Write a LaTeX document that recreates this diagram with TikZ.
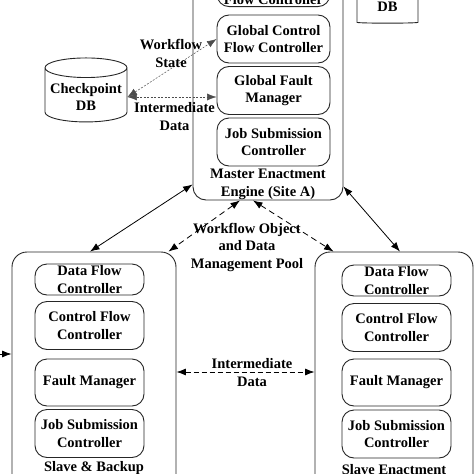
\documentclass[tikz,border=0pt]{standalone}
\usepackage{fontspec}
\setmainfont{Liberation Serif}
\usetikzlibrary{shapes.geometric,arrows.meta}

\begin{document}
\begin{tikzpicture}[x=1pt, y=-1pt,
    font=\fontsize{14.5}{17.5}\selectfont\bfseries,
    >={Latex[length=9.5pt,width=7pt]},
    engine/.style={draw=black!85, line width=0.9pt, rounded corners=13pt},
    unit/.style={draw=black!85, line width=0.9pt, rounded corners=12pt, align=center,
        minimum width=109pt, minimum height=48pt, inner sep=1pt},
    db/.style={draw=black!85, line width=0.9pt, cylinder, shape border rotate=90,
        aspect=0.25, align=center},
    link/.style={<->, line width=0.8pt},
    pool/.style={<->, line width=0.8pt, dash pattern=on 6pt off 4pt},
    store/.style={<->, line width=0.5pt, black!70, dash pattern=on 2pt off 1.5pt},
    tag/.style={align=center, inner sep=1pt}]
    % Visible area (the figure is cut on every side)
    \useasboundingbox (0,0) rectangle (474,474);
    \clip (0,0) rectangle (474,474);

    % Master engine (site A) and its units
    \node[engine, minimum width=150pt, minimum height=260pt,
        label={[tag, anchor=center, yshift=16pt]south:Master Enactment\\Engine (Site A)}] (master) at (268,70) {};
    \node[unit, minimum width=113pt, anchor=south,
        label={[tag, anchor=center, yshift=7pt]south:Flow Controller}] (gdf) at (273.5,7) {};
    \node[unit, minimum width=113pt] (gcf) at (273.5,39) {Global Control\\Flow Controller};
    \node[unit, minimum width=113pt] (gfm) at (273.5,90.5) {Global Fault\\Manager};
    \node[unit, minimum width=113pt] (mjs) at (273.5,142) {Job Submission\\Controller};

    % Databases
    \node[db, minimum width=82pt, minimum height=64pt] (chk) at (86,97) {Checkpoint\\DB};
    \node[db, minimum width=61pt, minimum height=70pt,
        label={[tag, anchor=center, yshift=17pt]south:DB}] (topdb) at (387.5,-11) {};

    % Slave & backup engine
    \node[engine, rounded corners=15pt, minimum width=164pt, minimum height=240pt,
        label={[tag, anchor=center, yshift=24pt]south:Slave \& Backup}] (lslave) at (94,372) {};
    \node[unit, minimum height=31pt] (ldf) at (89.5,279.5) {Data Flow\\Controller};
    \node[unit] (lcf) at (89.5,325.5) {Control Flow\\Controller};
    \node[unit, minimum height=47pt] (lfm) at (89.5,382.5) {Fault Manager};
    \node[unit] (ljs) at (89.5,433.5) {Job Submission\\Controller};

    % Slave engine
    \node[engine, rounded corners=15pt, minimum width=158pt, minimum height=240pt,
        label={[tag, anchor=center, yshift=23pt]south:Slave Enactment}] (rslave) at (394,372) {};
    \node[unit, minimum height=31pt] (rdf) at (396.5,280.5) {Data Flow\\Controller};
    \node[unit] (rcf) at (396.5,327.5) {Control Flow\\Controller};
    \node[unit, minimum height=47pt] (rfm) at (396.5,382.5) {Fault Manager};
    \node[unit] (rjs) at (396.5,434) {Job Submission\\Controller};

    % Checkpointing
    \draw[store] (chk.east) -- (gcf.west);
    \draw[store] (chk.east) -- (chk.east -| gfm.west);
    \node[tag] (wstate) at (171,53.5) {Workflow\\State};
    \node[tag] (cdata) at (174.5,116.5) {Intermediate\\Data};

    % Master <-> slaves
    \draw[link] ([yshift=16pt]master.south west) -- ([xshift=-4pt]lslave.north);
    \draw[link] ([yshift=14pt]master.south east) -- ([xshift=6pt]rslave.north);
    \draw[pool] ([xshift=-28pt]master.south) -- ([xshift=-8pt]lslave.north east);
    \draw[pool] ([xshift=-15pt]master.south) -- ([xshift=19pt]rslave.north west);
    \node[tag] (wpool) at (247,247) {Workflow Object\\and Data\\Management Pool};

    % Between the slaves
    \draw[<->, line width=0.8pt, dash pattern=on 5pt off 3pt] (lslave.east) -- (rslave.west);
    \node[tag] (sdata) at (252,372.5) {Intermediate\\Data};

    % Incoming from the left
    \coordinate (ext) at (-10,354);
    \draw[->, line width=0.8pt] (ext) -- (ext -| lslave.west);
\end{tikzpicture}
\end{document}
